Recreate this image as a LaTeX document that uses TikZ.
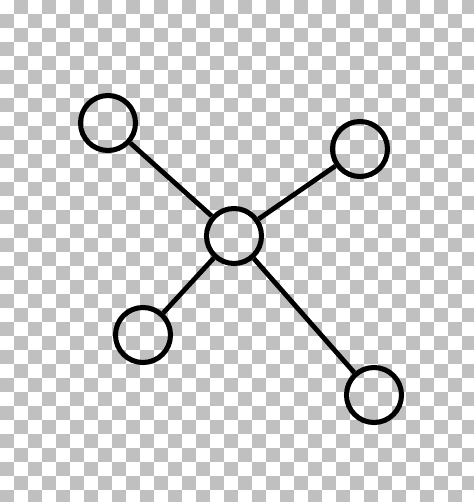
\documentclass[tikz,border=0pt]{standalone}
\usepackage{tikz}
\definecolor{checkgray}{RGB}{192,192,192}
\tikzstyle{hub}=[draw, circle, line width=3.6pt, minimum size=1.375cm, inner sep=0pt]
\tikzstyle{leaf}=[hub]
\tikzstyle{link}=[draw, line width=3.4pt]
\tikzstyle{check}=[fill=checkgray]

\begin{document}
\begin{tikzpicture}[x=0.025cm,y=-0.025cm]

  % page size and checkered background
  \useasboundingbox (0,0) rectangle (474,502);
  \clip (0,0) rectangle (474,502);
  \fill[white] (0,0) rectangle (474,502);
  \foreach \i in {1,3,...,33}
    \foreach \j in {0,2,...,34}
      \path[check] (\i*14,\j*14) rectangle +(14,14);
  \foreach \i in {0,2,...,32}
    \foreach \j in {1,3,...,35}
      \path[check] (\i*14,\j*14) rectangle +(14,14);

  % Draw diagram elements
  \node (CENTER) [hub] at (234,236) {};
  \node (TOPLEFT) [leaf] at (108,123) {};
  \node (TOPRIGHT) [leaf] at (360,149) {};
  \node (BOTLEFT) [leaf] at (143,335) {};
  \node (BOTRIGHT) [leaf] at (374,395) {};

  % Draw links between elements
  \path [link] (CENTER) -- (TOPLEFT);
  \path [link] (CENTER) -- (TOPRIGHT);
  \path [link] (CENTER) -- (BOTLEFT);
  \path [link] (CENTER) -- (BOTRIGHT);

\end{tikzpicture}
\end{document}
